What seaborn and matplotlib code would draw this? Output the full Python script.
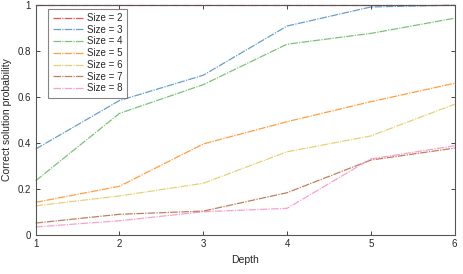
import pandas as pd
import matplotlib
matplotlib.use("Agg")
import matplotlib.pyplot as plt
import seaborn as sns

# Dados
depth = [1, 2, 3, 4, 5, 6]
size_2 = [1.0, 1.0, 1.0, 1.0, 1.0, 1.0]
size_3 = [0.372, 0.583, 0.693, 0.907, 0.99, 0.998]
size_4 = [0.234, 0.527, 0.652, 0.828, 0.875, 0.941]
size_5 = [0.140, 0.210, 0.394, 0.491, 0.578, 0.658]
size_6 = [0.125, 0.168, 0.223, 0.360, 0.429, 0.567]
size_7 = [0.050, 0.088, 0.102, 0.182, 0.324, 0.376]
size_8 = [0.033, 0.060, 0.099, 0.114, 0.329, 0.386]
labels = ["Size = 2", "Size = 3", "Size = 4", "Size = 5", "Size = 6", "Size = 7", "Size = 8"]
colors = ["#e41a1c", "#377eb8", "#4daf4a", "#ff7f00", "#dcc24a", "#a65628", "#f781bf"]

series = [size_2, size_3, size_4, size_5, size_6, size_7, size_8]
rows = []
for label, values in zip(labels, series):
    for d, v in zip(depth, values):
        rows.append({"Depth": d, "prob": v, "Size": label})
df = pd.DataFrame(rows)

sns.set_style("ticks")
plt.rcParams["font.family"] = ["Liberation Sans", "DejaVu Sans"]

dash = (0, (6, 1, 1, 1))

fig = plt.figure(figsize=(4.63, 2.74), dpi=100)
ax = fig.add_axes([0.077, 0.144, 0.905, 0.839])

sns.lineplot(data=df, x="Depth", y="prob", hue="Size", palette=colors,
             linewidth=0.9, alpha=0.75, ax=ax)
for line in ax.lines:
    line.set_linestyle(dash)
    line.set_clip_on(False)

ax.set_xlim(1, 6)
ax.set_ylim(0, 1)
ax.set_xticks(depth)
ax.set_yticks([0, 0.2, 0.4, 0.6, 0.8, 1])
ax.set_yticklabels(["0", "0.2", "0.4", "0.6", "0.8", "1"])
ax.tick_params(direction="in", length=3, width=0.6, labelsize=7, colors="#262626",
               top=True, right=True)
for spine in ax.spines.values():
    spine.set_visible(True)
    spine.set_linewidth(0.8)
    spine.set_color("#555555")
ax.set_xlabel("Depth", fontsize=7.5, color="#262626", labelpad=4)
ax.set_ylabel("Correct solution probability", fontsize=7.5, color="#262626", labelpad=4)

leg = ax.legend(loc="upper left", bbox_to_anchor=(0.03, 0.983), fontsize=7,
                frameon=True, fancybox=False, handlelength=3.2, handletextpad=0.3,
                labelspacing=0.18, borderpad=0.45, borderaxespad=0)
leg.get_frame().set_edgecolor("#666666")
leg.get_frame().set_linewidth(0.8)
for h in leg.get_lines():
    h.set_linestyle(dash)

fig.savefig("out.png", dpi=100)
